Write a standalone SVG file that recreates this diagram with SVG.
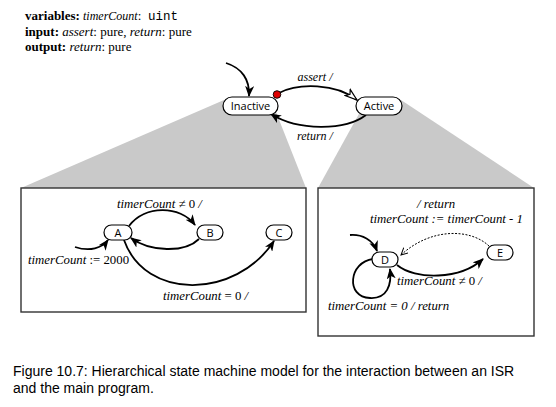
<svg xmlns="http://www.w3.org/2000/svg" width="556" height="407" viewBox="0 0 556 407">
<defs>
<style>
.node rect{fill:#fff;stroke:#000;stroke-width:1.2}
.node text{font-family:"Open Sans","Noto Sans",sans-serif;font-size:11px;text-anchor:middle;fill:#000}
.lbl{font-family:"Liberation Serif",serif;font-style:italic;font-size:12.8px;fill:#000}
.top{font-size:12px}
.up{font-style:normal}
.hdr{font-family:"Liberation Serif",serif;font-size:13px;fill:#000}
.cap{font-family:"Liberation Sans",Arial,sans-serif;font-size:14px;fill:#000}
.edge{fill:none;stroke:#000;stroke-width:1.8}
.wedge{fill:#c9c9c9}
.box{fill:#fff;stroke:#333;stroke-width:1.4}
</style>
<marker id="ah" viewBox="0 0 11 9" refX="10" refY="4.5" markerWidth="11" markerHeight="9" markerUnits="userSpaceOnUse" orient="auto">
<path d="M0,0 L11,4.5 L0,9 L3,4.5 z" fill="#000"/>
</marker>
<marker id="ao" viewBox="0 0 14 10" refX="13" refY="5" markerWidth="14" markerHeight="10" markerUnits="userSpaceOnUse" orient="auto">
<path d="M1,1 L13,5 L1,9 L4,5 z" fill="#fff" stroke="#000" stroke-width="1.2"/>
</marker>
<marker id="av" viewBox="0 0 8 8" refX="7" refY="4" markerWidth="8" markerHeight="8" markerUnits="userSpaceOnUse" orient="auto">
<path d="M0,0.5 L7,4 L0,7.5" fill="none" stroke="#000" stroke-width="1"/>
</marker>
</defs>
<rect width="556" height="407" fill="#fff"/>

<g id="header">
<text class="hdr" y="20"><tspan x="25" font-weight="bold">variables:</tspan><tspan x="83" font-style="italic" font-size="12px">timerCount</tspan>:<tspan x="148" font-family="Liberation Mono,monospace" font-size="12.5px">uint</tspan></text>
<text class="hdr" x="25" y="35.5"><tspan font-weight="bold">input:</tspan> <tspan font-style="italic">assert</tspan>: pure, <tspan font-style="italic">return</tspan>: pure</text>
<text class="hdr" x="25" y="51"><tspan font-weight="bold">output:</tspan> <tspan font-style="italic">return</tspan>: pure</text>
</g>

<g id="wedges">
<polygon class="wedge" points="224,100 276,112 306,188 21,188"/>
<polygon class="wedge" points="360,112 401,100 534,188 318,188"/>
</g>

<g id="box-left"><rect class="box" x="21" y="188" width="285" height="124"/></g>
<g id="box-right"><rect class="box" x="318" y="188" width="216" height="148"/></g>

<g id="connectors">
<path class="edge" d="M226,63 C242,68 250,80 249,96" marker-end="url(#ah)"/>
<path class="edge" d="M279,93 C298,83 336,83 357,100" marker-end="url(#ao)"/>
<path class="edge" d="M366,115 C345,131 298,131 271,114" marker-end="url(#ah)"/>
<circle cx="277" cy="94.5" r="3.8" fill="#e00000" stroke="#000" stroke-width="0.9"/>

<path class="edge" d="M129,226 C145,205 180,205 195,225" marker-end="url(#ah)"/>
<path class="edge" d="M199,239 C185,253 150,252 131,238" marker-end="url(#ah)"/>
<path class="edge" d="M75,247 C90,252 102,248 108,240" marker-end="url(#ah)"/>
<path class="edge" d="M124,240 C145,300 235,300 274,241" marker-end="url(#ah)"/>

<path class="edge" d="M350,235 C362,234 373,240 377,251" marker-end="url(#ah)"/>
<path d="M489,246 C470,228 430,228 401,255" fill="none" stroke="#000" stroke-width="1" stroke-dasharray="2,1.5" marker-end="url(#av)"/>
<path class="edge" d="M397,265 C415,280 460,280 483,259" marker-end="url(#ah)"/>
<path class="edge" d="M373,259 C349,262 345,297 370,298 C387,299 392,285 390,269" marker-end="url(#ah)"/>
</g>

<g id="node-inactive" class="node"><rect x="223" y="97" width="55" height="18" rx="9"/><text x="250.5" y="110">Inactive</text></g>
<g id="node-active" class="node"><rect x="356" y="97" width="46" height="18" rx="9"/><text x="379" y="110">Active</text></g>
<g id="node-a" class="node"><rect x="104" y="225" width="28" height="15" rx="7.5"/><text x="118" y="236.5">A</text></g>
<g id="node-b" class="node"><rect x="197" y="225" width="26" height="15" rx="7.5"/><text x="210" y="236.5">B</text></g>
<g id="node-c" class="node"><rect x="266" y="225" width="26" height="15" rx="7.5"/><text x="279" y="236.5">C</text></g>
<g id="node-d" class="node"><rect x="372" y="252" width="26" height="15" rx="7.5"/><text x="385" y="263.5">D</text></g>
<g id="node-e" class="node"><rect x="487" y="245" width="26" height="15" rx="7.5"/><text x="500" y="256.5">E</text></g>

<g id="labels">
<text class="lbl top" x="315" y="81" text-anchor="middle">assert /</text>
<text class="lbl top" x="315" y="140" text-anchor="middle">return /</text>
<text class="lbl" x="117" y="208">timerCount <tspan class="up">≠ 0 </tspan> /</text>
<text class="lbl" x="28" y="264">timerCount <tspan class="up">:= 2000</tspan></text>
<text class="lbl" x="163" y="300">timerCount <tspan class="up">= 0 </tspan> /</text>
<text class="lbl" x="417" y="208">/ return</text>
<text class="lbl" x="370" y="223">timerCount := timerCount - 1</text>
<text class="lbl" x="397" y="285">timerCount <tspan class="up">≠ 0 </tspan> /</text>
<text class="lbl" x="328" y="310">timerCount = 0 / return</text>
</g>

<g id="caption">
<text class="cap" x="13" y="376">Figure 10.7: Hierarchical state machine model for the interaction between an ISR</text>
<text class="cap" x="13" y="393">and the main program.</text>
</g>
</svg>
